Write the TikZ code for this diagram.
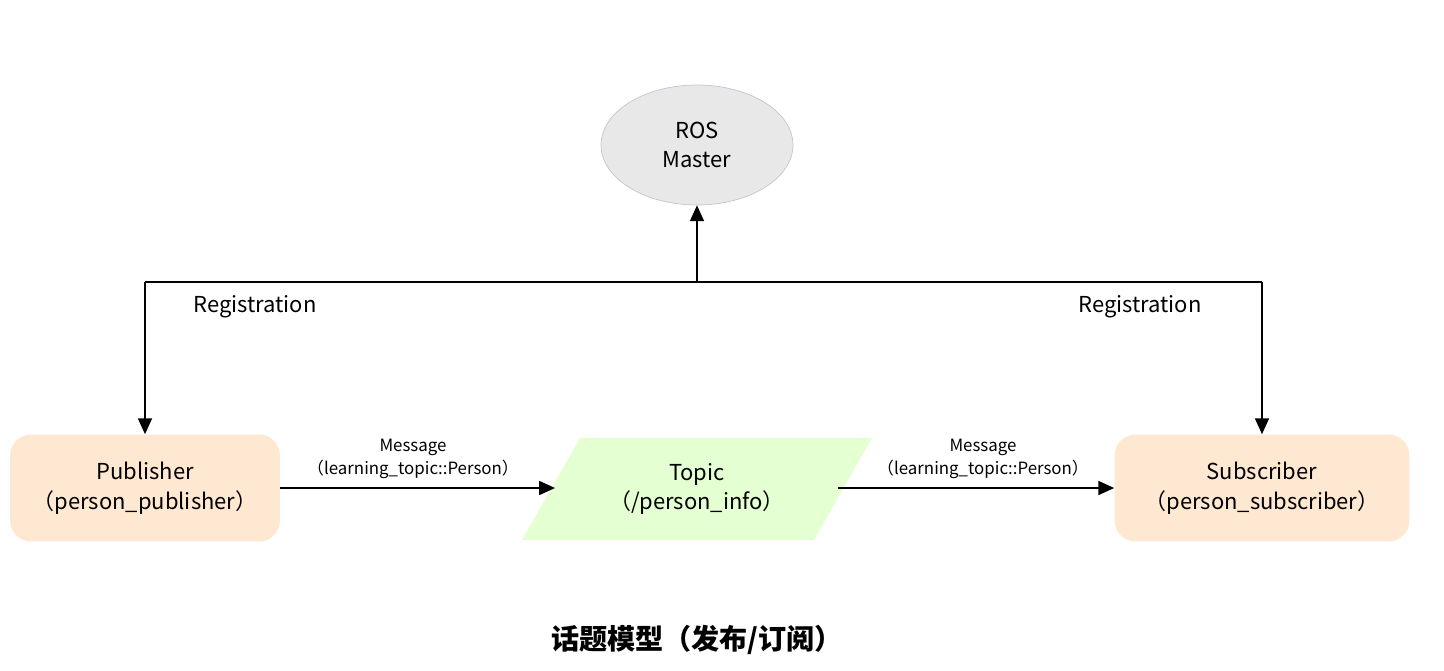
\documentclass[tikz,border=0pt]{standalone}
\usepackage{fontspec}
\setmainfont{Noto Sans CJK SC}
\usetikzlibrary{arrows.meta,shapes.geometric}
\tikzset{
  box/.style={rounded corners=12pt, fill=orange!18!white, minimum height=2.14cm, align=center, font=\fontsize{12.5}{17}\selectfont},
  lbl/.style={font=\fontsize{9.6}{13}\selectfont, align=center},
  arr/.style={thick, -{Triangle[length=9pt,width=8pt]}}
}
\begin{document}
\begin{tikzpicture}[x=0.02cm,y=-0.02cm]
  \useasboundingbox (0,0) rectangle (1444,670);
  % master
  \node[ellipse, draw=blue!15!gray!40, fill=gray!18, minimum width=3.84cm, minimum height=2.4cm, align=center, font=\fontsize{12.5}{17}\selectfont] (master) at (697,145) {ROS\\Master};
  % nodes
  \node[box, minimum width=5.4cm] (pub) at (145,488) {Publisher\\（person\_publisher）};
  \node[box, minimum width=5.9cm] (sub) at (1262,488) {Subscriber\\（person\_subscriber）};
  \fill[green!45!lime!18!white] (580,438) -- (872,438) -- (814,540) -- (522,540) -- cycle;
  \node[align=center, font=\fontsize{12.5}{17}\selectfont] (topic) at (697,489) {Topic\\（/person\_info）};
  \coordinate (tl) at (555,488);
  \coordinate (tr) at (838,488);
  % registration
  \coordinate (jl) at (145,282);
  \coordinate (jm) at (697,282);
  \coordinate (jr) at (1262,282);
  \draw[thick] (jl) -- (jr);
  \draw[arr] (jl) -- (pub.north);
  \draw[arr] (jr) -- (sub.north);
  \draw[arr] (jm) -- (master.south);
  \node[font=\fontsize{12.5}{17}\selectfont] (reg1) at (255,307) {Registration};
  \node[font=\fontsize{12.5}{17}\selectfont] (reg2) at (1140,307) {Registration};
  % messages
  \draw[arr] (pub.east) -- (tl);
  \draw[arr] (tr) -- (sub.west);
  \node[lbl] (m1) at (413,459) {Message\\（learning\_topic::Person）};
  \node[lbl] (m2) at (983,459) {Message\\（learning\_topic::Person）};
  \node[font=\bfseries\fontsize{16}{20}\selectfont] (cap) at (697,640) {话题模型（发布/订阅）};
\end{tikzpicture}
\end{document}
